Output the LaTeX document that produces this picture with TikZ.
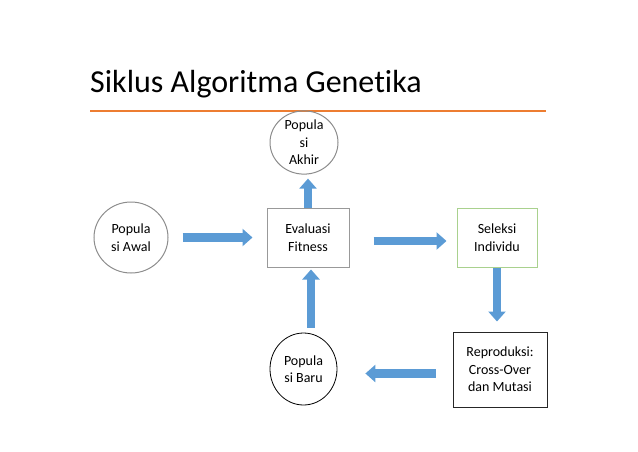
\documentclass[tikz,border=0pt]{standalone}
\usepackage{fontspec}
\setmainfont[Ligatures=NoCommon]{Carlito}
\usetikzlibrary{arrows.meta,shapes.geometric}
\definecolor{judul}{HTML}{ED7D31}
\definecolor{panah}{HTML}{5B9BD5}
\definecolor{hijau}{HTML}{A9D18E}
\begin{document}
\begin{tikzpicture}[x=1pt,y=-1pt,
  teks/.style={font=\fontsize{14}{17.5}\selectfont,align=center,inner sep=0pt},
  bulat/.style={teks,ellipse,draw=gray!90,line width=1pt},
  kotak/.style={teks,rectangle,draw=gray!80,line width=1pt},
  blok/.style={draw=panah,line width=8.5pt,-{Triangle[width=17pt,length=10pt]}}]
\useasboundingbox (0,0) rectangle (638,451);
\node[anchor=base west,font=\fontsize{32}{38}\selectfont,inner sep=0pt] (judul) at (90,92) {Siklus Algoritma Genetika};
\draw[judul,line width=2.2pt] (90,111) -- (546,111);
\node[bulat,minimum width=74,minimum height=71] (awal) at (131,237.5) {Popula\\si Awal};
\node[bulat,minimum width=68,minimum height=61] (akhir) at (304,142.5) {Popula\\si\\Akhir};
\node[bulat,draw=black,line width=0.8pt,minimum width=67,minimum height=72] (baru) at (303.5,369) {Popula\\si Baru};
\node[kotak,minimum width=82,minimum height=59] (eval) at (308,237.5) {Evaluasi\\Fitness};
\node[kotak,draw=hijau,minimum width=80,minimum height=59] (sel) at (497,237.5) {Seleksi\\Individu};
\node[kotak,draw=black!85,minimum width=94,minimum height=75] (repro) at (500,369.5) {Reproduksi:\\Cross-Over\\dan Mutasi};
\draw[blok,shorten <=14,shorten >=14] (awal.east) -- (eval.west);
\draw[blok,shorten <=24,shorten >=10] ([yshift=-3.5]eval.east) -- ([yshift=-3.5]sel.west);
\draw[blok,shorten >=10] (sel.south) -- (sel.south |- repro.north);
\draw[blok,shorten <=17,shorten >=28] ([yshift=-4]repro.west) -- ([yshift=-4]repro.west -| baru.east);
\draw[blok,shorten <=5,shorten >=2] ([xshift=3]eval.south |- baru.north) -- ([xshift=3]eval.south);
\draw[blok,shorten >=4] (eval.north) -- (eval.north |- akhir.south);
\end{tikzpicture}
\end{document}
